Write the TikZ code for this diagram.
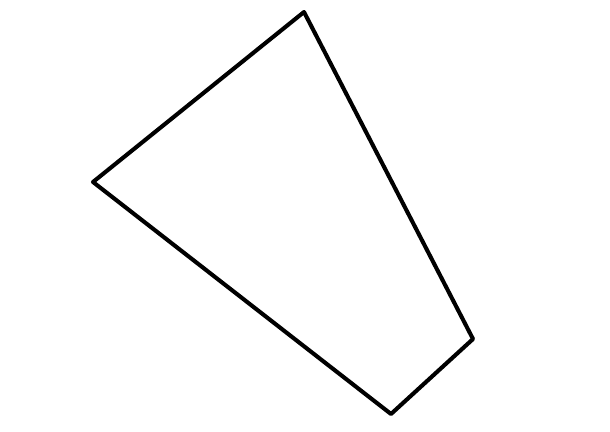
\documentclass[tikz,border=0pt]{standalone}
\usepackage{tikz}
\begin{document}
\begin{tikzpicture}[x=0.025cm,y=-0.025cm,line width=2.9pt]
\useasboundingbox (0,0) rectangle (610,432);

\draw[line join=round] (304,12) -- (93,182) -- (391,414) -- (473,339) -- cycle;
\end{tikzpicture}
\end{document}
